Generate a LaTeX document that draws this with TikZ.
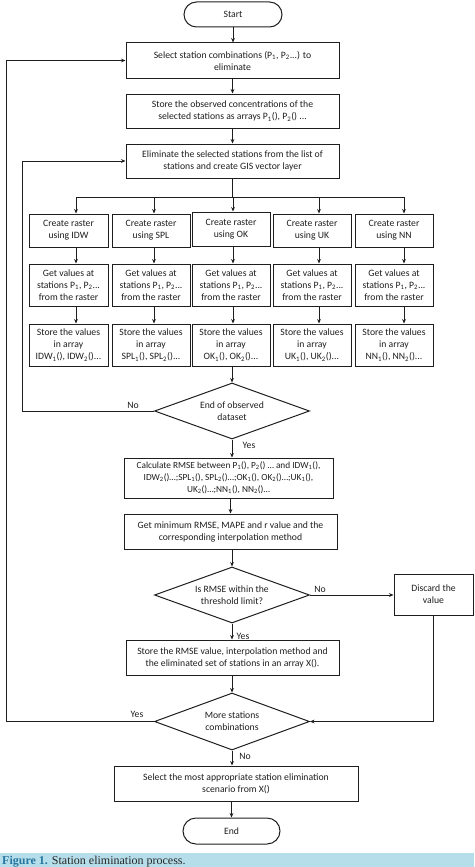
\documentclass[tikz,border=0pt]{standalone}
\usepackage{fontspec}
\setmainfont{Carlito}
\newfontfamily\capfont{Liberation Serif}
\usetikzlibrary{shapes.geometric,shapes.misc,arrows.meta,calc}
\newcommand\sbs[1]{\textsubscript{#1}}
\definecolor{capbg}{RGB}{182,222,234}
\definecolor{capblue}{RGB}{38,118,160}
\definecolor{ln}{RGB}{30,30,30}
\begin{document}
\begin{tikzpicture}[x=1pt,y=1pt,
  every node/.style={font=\fontsize{9.7}{12}\selectfont, text=ln},
  box/.style={draw=ln, line width=1pt, rectangle, align=center, inner sep=1pt},
  term/.style={draw=ln, line width=1pt, rounded rectangle, align=center, inner sep=1pt},
  dec/.style={draw=ln, line width=1pt, diamond, aspect=2.77, inner sep=0pt, align=center},
  conn/.style={draw=ln, line width=1pt},
  arr/.style={conn, -{Stealth[length=4.5pt,width=3.8pt]}},
  lbl/.style={inner sep=0pt}
]
\useasboundingbox (0,0) rectangle (474,-867);

% caption
\fill[capbg] (0,-853) rectangle (474,-867);
\node[anchor=base west, inner sep=0pt, font=\capfont\fontsize{12}{12}\selectfont] (cap) at (2,-864.5)
  {\textcolor{capblue}{\textbf{Figure 1.}} \textcolor{black!85}{Station elimination process.}};

% main column
\node[term, minimum width=100pt, minimum height=25pt] (start) at (233,-14.5) {Start};
\node[box, minimum width=213pt, minimum height=35pt] (b1) at (232.5,-60.5)
  {Select station combinations (P\sbs{1}, P\sbs{2}...) to\\eliminate};
\node[box, minimum width=213pt, minimum height=34pt] (b2) at (232.5,-111)
  {Store the observed concentrations of the\\selected stations as arrays P\sbs{1}(), P\sbs{2}() ...};
\node[box, minimum width=213pt, minimum height=34pt] (b3) at (232.5,-161)
  {Eliminate the selected stations from the list of\\stations and create GIS vector layer};

% columns
\coordinate (bar) at (232.5,-197);
\coordinate (k1) at (76,-197);
\coordinate (k2) at (154,-197);
\coordinate (k3) at (233,-197);
\coordinate (k4) at (319,-197);
\coordinate (k5) at (404,-197);

\node[box, minimum width=79pt, minimum height=33pt] (c1) at (68.5,-230.5) {Create raster\\using IDW};
\node[box, minimum width=78pt, minimum height=33pt] (c2) at (151,-230.5) {Create raster\\using SPL};
\node[box, minimum width=78pt, minimum height=34pt] (c3) at (231,-229) {Create raster\\using OK};
\node[box, minimum width=78pt, minimum height=33pt] (c4) at (312,-230.5) {Create raster\\using UK};
\node[box, minimum width=78pt, minimum height=33pt] (c5) at (394,-230.5) {Create raster\\using NN};

\node[box, minimum width=79pt, minimum height=42pt] (g1) at (68.5,-285) {Get values at\\stations P\sbs{1}, P\sbs{2}...\\from the raster};
\node[box, minimum width=78pt, minimum height=42pt] (g2) at (151,-285) {Get values at\\stations P\sbs{1}, P\sbs{2}...\\from the raster};
\node[box, minimum width=78pt, minimum height=42pt] (g3) at (231,-285) {Get values at\\stations P\sbs{1}, P\sbs{2}...\\from the raster};
\node[box, minimum width=78pt, minimum height=42pt] (g4) at (312,-285) {Get values at\\stations P\sbs{1}, P\sbs{2}...\\from the raster};
\node[box, minimum width=78pt, minimum height=42pt] (g5) at (394,-285) {Get values at\\stations P\sbs{1}, P\sbs{2}...\\from the raster};

\node[box, minimum width=79pt, minimum height=42pt] (s1) at (68.5,-345) {Store the values\\in array\\IDW\sbs{1}(), IDW\sbs{2}()...};
\node[box, minimum width=78pt, minimum height=42pt] (s2) at (151,-345) {Store the values\\in array\\SPL\sbs{1}(), SPL\sbs{2}()...};
\node[box, minimum width=78pt, minimum height=42pt] (s3) at (231,-345) {Store the values\\in array\\OK\sbs{1}(), OK\sbs{2}()...};
\node[box, minimum width=78pt, minimum height=42pt] (s4) at (312,-345) {Store the values\\in array\\UK\sbs{1}(), UK\sbs{2}()...};
\node[box, minimum width=78pt, minimum height=42pt] (s5) at (394,-345) {Store the values\\in array\\NN\sbs{1}(), NN\sbs{2}()...};

\node[dec, minimum width=155pt, minimum height=56pt] (d1) at (232,-411) {End of observed\\dataset};

\node[box, minimum width=209pt, minimum height=40pt, font=\fontsize{9.3}{12}\selectfont] (calc) at (228.5,-478)
  {Calculate RMSE between P\sbs{1}(), P\sbs{2}() … and IDW\sbs{1}(),\\IDW\sbs{2}()…;SPL\sbs{1}(), SPL\sbs{2}()…;OK\sbs{1}(), OK\sbs{2}()…;UK\sbs{1}(),\\UK\sbs{2}()…;NN\sbs{1}(), NN\sbs{2}()…};
\node[box, minimum width=213pt, minimum height=35pt] (gm) at (230.5,-531.5)
  {Get minimum RMSE, MAPE and r value and the\\corresponding interpolation method};
\node[dec, minimum width=155pt, minimum height=56pt] (d2) at (232,-595) {Is RMSE within the\\threshold limit?};
\node[box, minimum width=79pt, minimum height=41pt] (disc) at (433.5,-594.5) {Discard the\\value};
\node[box, minimum width=213pt, minimum height=35pt] (sx) at (232.5,-657.5)
  {Store the RMSE value, interpolation method and\\the eliminated set of stations in an array X().};
\node[dec, minimum width=155pt, minimum height=57pt] (d3) at (232,-721.5) {More stations\\combinations};
\node[box, minimum width=244pt, minimum height=35pt] (fin) at (236,-783.5)
  {Select the most appropriate station elimination\\scenario from X()};
\node[term, minimum width=99pt, minimum height=26pt] (end) at (231.5,-831) {End};

% connectors
\draw[arr] (start) -- (start |- b1.north);
\draw[arr] (b1) -- (b1 |- b2.north);
\draw[arr] (b2) -- (b2 |- b3.north);
\draw[conn] (b3.south) -- (bar);
\draw[conn] (k1) -- (k5);
\foreach \i in {1,...,5} {
  \draw[arr] (k\i) -- (k\i |- c\i.north);
  \draw[arr] (k\i |- c\i.south) -- (k\i |- g\i.north);
  \draw[arr] (k\i |- g\i.south) -- (k\i |- s\i.north);
}
\draw[arr] (s3.south -| d1.north) -- (d1.north);
\coordinate (inl) at (22,-411);
\draw[arr] (d1.west) -- (inl) |- (b3.west);
\node[lbl] (no1) at (133,-405) {No};
\draw[arr] (d1.south) -- (d1.south |- calc.north);
\node[lbl] (yes1) at (249,-445) {Yes};
\draw[arr] (calc.south -| gm.north) -- (gm.north);
\draw[arr] (gm.south -| d2.north) -- (d2.north);
\draw[arr] (d2.east) -- (disc.west |- d2.east);
\node[lbl] (no2) at (320,-589) {No};
\draw[arr] (d2.south) -- (d2.south |- sx.north);
\node[lbl] (yes2) at (243,-636) {Yes};
\draw[arr] (sx.south -| d3.north) -- (d3.north);
\draw[arr] (disc.south) |- (d3.east);
\coordinate (outl) at (6,-721.5);
\draw[arr] (d3.west) -- (outl) |- (b1.west);
\node[lbl] (yes3) at (137,-714) {Yes};
\draw[arr] (d3.south) -- (d3.south |- fin.north);
\node[lbl] (no3) at (245,-756) {No};
\draw[arr] (fin.south -| end.north) -- (end.north);
\end{tikzpicture}
\end{document}
